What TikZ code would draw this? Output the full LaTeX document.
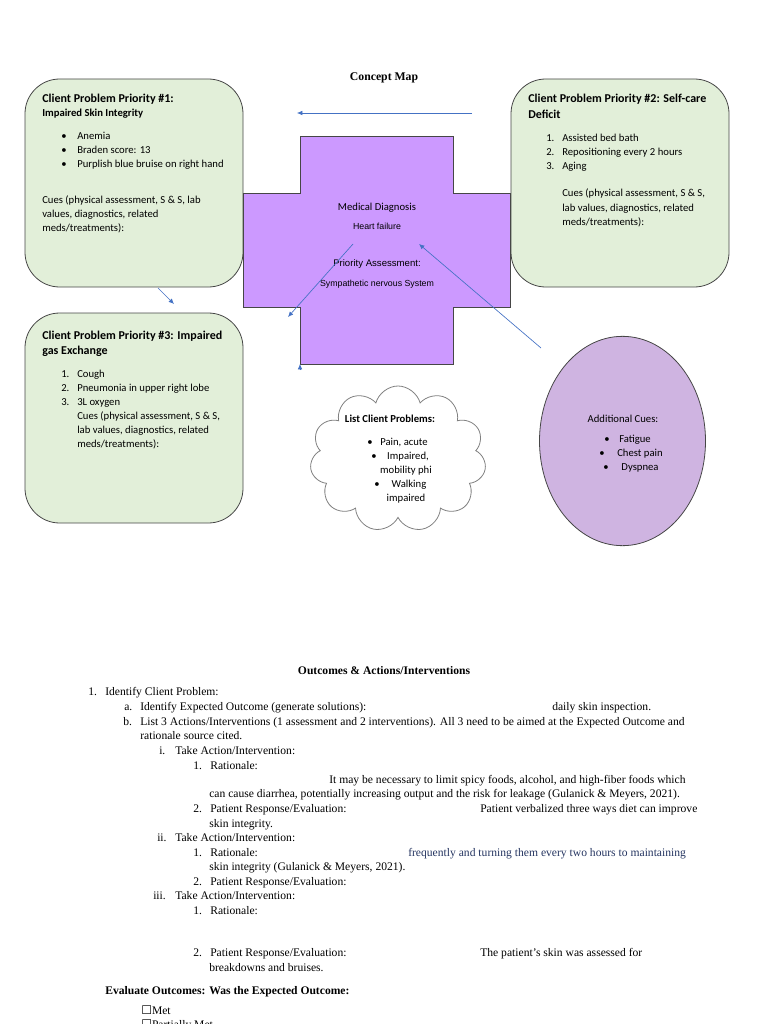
\documentclass[tikz,border=0pt]{standalone}
\usepackage{fontspec}
\setmainfont{Liberation Serif}
\newfontfamily\calfont{Carlito}
\newfontfamily\arialfont{Liberation Sans}
\newfontfamily\symfont{DejaVu Sans}
\usetikzlibrary{shapes.geometric,shapes.symbols,arrows.meta}

\definecolor{boxgreen}{RGB}{226,239,217}
\definecolor{crosspurple}{RGB}{204,153,255}
\definecolor{cuelilac}{RGB}{207,180,225}
\definecolor{arrowblue}{RGB}{68,114,196}
\definecolor{navytext}{RGB}{36,52,96}
\definecolor{edgegray}{RGB}{70,70,70}

\tikzset{
  probbox/.style={draw=edgegray,fill=boxgreen,rounded corners=26pt,line width=0.6pt,
    minimum width=163.5pt,minimum height=156pt,inner sep=0pt},
  boxtxt/.style={anchor=base west,inner sep=0pt,font=\calfont\fontsize{8}{10}\selectfont},
  boxhead/.style={boxtxt,font=\calfont\bfseries\fontsize{9}{11}\selectfont},
  midtxt/.style={anchor=base,inner sep=0pt,font=\calfont\fontsize{8}{10}\selectfont},
  crosstxt/.style={anchor=base,inner sep=0pt,font=\arialfont\fontsize{6.6}{8}\selectfont},
  link/.style={draw=arrowblue,line width=0.5pt,-{Latex[length=4pt,width=3.5pt]}},
  doctxt/.style={anchor=base west,inner sep=0pt,font=\fontsize{8.7}{10}\selectfont},
}

\begin{document}
\begin{tikzpicture}[x=0.75pt,y=-0.75pt]
  \useasboundingbox (0,0) rectangle (768,1024);

  % Title
  \node[anchor=base,font=\bfseries\fontsize{8.8}{10}\selectfont] (title) at (384,80) {Concept Map};

  % Problem boxes
  \node[probbox] (p1) at (134,183) {};
  \node[probbox] (p2) at (620,183) {};
  \node[probbox,minimum height=157.5pt] (p3) at (134,418) {};

  % Priority #1
  \node[boxhead] (p1h) at (42,103) {Client Problem Priority \#1:};
  \node[boxtxt,font=\calfont\bfseries\fontsize{8}{10}\selectfont] (p1s) at (42,117) {Impaired Skin Integrity};
  \foreach \txt [count=\k] in {Anemia, Braden score: 13, Purplish blue bruise on right hand}{
    \node[boxtxt] (p1d\k) at (61,125+14*\k) {•};
    \node[boxtxt] (p1b\k) at (77,125+14*\k) {\txt};
  }
  \node[boxtxt] (p1c1) at (42,203) {Cues (physical assessment, S \& S, lab};
  \node[boxtxt] (p1c2) at (42,217) {values, diagnostics, related};
  \node[boxtxt] (p1c3) at (42,231) {meds/treatments):};

  % Priority #2
  \node[boxhead] (p2h) at (528,103) {Client Problem Priority \#2: Self-care};
  \node[boxhead] (p2s) at (528,118) {Deficit};
  \foreach \txt [count=\k] in {Assisted bed bath, Repositioning every 2 hours, Aging}{
    \node[boxtxt] (p2n\k) at (546,127+14*\k) {\k.};
    \node[boxtxt] (p2b\k) at (562,127+14*\k) {\txt};
  }
  \node[boxtxt] (p2c1) at (562,196) {Cues (physical assessment, S \& S,};
  \node[boxtxt] (p2c2) at (562,211) {lab values, diagnostics, related};
  \node[boxtxt] (p2c3) at (562,225) {meds/treatments):};

  % Priority #3
  \node[boxhead] (p3h) at (42,339) {Client Problem Priority \#3: Impaired};
  \node[boxhead] (p3s) at (42,354) {gas Exchange};
  \foreach \txt [count=\k] in {Cough, Pneumonia in upper right lobe, 3L oxygen}{
    \node[boxtxt] (p3n\k) at (61,363+14*\k) {\k.};
    \node[boxtxt] (p3b\k) at (77,363+14*\k) {\txt};
  }
  \node[boxtxt] (p3c1) at (77,419) {Cues (physical assessment, S \& S,};
  \node[boxtxt] (p3c2) at (77,433) {lab values, diagnostics, related};
  \node[boxtxt] (p3c3) at (77,447) {meds/treatments):};

  % Medical diagnosis cross
  \draw[draw=edgegray,fill=crosspurple,line width=0.6pt] (300,136) -- (453,136) -- (453,193) -- (510,193)
    -- (510,307) -- (453,307) -- (453,364) -- (300,364) -- (300,307) -- (243,307) -- (243,193) -- (300,193) -- cycle;
  \node[midtxt] (dx) at (377,210) {Medical Diagnosis};
  \node[crosstxt] (dxv) at (377,229) {Heart failure};
  \node[crosstxt,font=\arialfont\fontsize{7.2}{8}\selectfont] (pa) at (377,266) {Priority Assessment:};
  \node[crosstxt] (pav) at (377,286) {Sympathetic nervous System};

  % Client problems cloud
  \node[cloud,draw=gray,fill=white,cloud puffs=11,aspect=1.2,line width=0.6pt,
    minimum width=132pt,minimum height=109.5pt] (probs) at (398,459) {};
  \node[midtxt,font=\calfont\bfseries\fontsize{8}{10}\selectfont] (probh) at (390,422) {List Client Problems:};
  \node[midtxt] (pr1) at (404,445) {Pain, acute};
  \node[midtxt] (pr2) at (408,459) {Impaired,};
  \node[midtxt] (pr3) at (406,473) {mobility phi};
  \node[midtxt] (pr4) at (409,487) {Walking};
  \node[midtxt] (pr5) at (406,501) {impaired};
  \node[midtxt] (prd1) at (370,445) {•};
  \node[midtxt] (prd2) at (374,459) {•};
  \node[midtxt] (prd3) at (377,487) {•};

  % Additional cues
  \node[ellipse,draw=edgegray,fill=cuelilac,line width=0.6pt,
    minimum width=124.5pt,minimum height=157pt] (cues) at (622.5,441) {};
  \node[midtxt] (cueh) at (623,422) {Additional Cues:};
  \node[midtxt] (cue1) at (635,442) {Fatigue};
  \node[midtxt] (cue2) at (640,456) {Chest pain};
  \node[midtxt] (cue3) at (640,470) {Dyspnea};
  \node[midtxt] (cued1) at (607,442) {•};
  \node[midtxt] (cued2) at (602,456) {•};
  \node[midtxt] (cued3) at (606,470) {•};

  % Arrows
  \coordinate (a1s) at (472,113);
  \coordinate (a1e) at (297,113);
  \coordinate (a2s) at (158,288);
  \coordinate (a2e) at (174,304);
  \coordinate (a3s) at (353,244);
  \coordinate (a3e) at (288,317);
  \coordinate (a4s) at (541,348);
  \coordinate (a4e) at (419,244);
  \coordinate (a5s) at (300,370);
  \coordinate (a5e) at (300,364);
  \draw[link] (a1s) -- (a1e);
  \draw[link] (a2s) -- (a2e);
  \draw[link] (a3s) -- (a3e);
  \draw[link] (a4s) -- (a4e);
  \draw[link] (a5s) -- (a5e);

  % Outcomes & interventions
  \node[anchor=base,font=\bfseries\fontsize{8.7}{10}\selectfont] (oh) at (384,674) {Outcomes \& Actions/Interventions};
  \node[doctxt] (t1n) at (88,695) {1.};
  \node[doctxt] (t1) at (105,695) {Identify Client Problem:};
  \node[doctxt] (t2n) at (124,710) {a.};
  \node[doctxt] (t2) at (140,710) {Identify Expected Outcome (generate solutions):};
  \node[doctxt] (t2r) at (552,710) {daily skin inspection.};
  \node[doctxt] (t3n) at (123,725) {b.};
  \node[doctxt] (t3) at (140,725) {List 3 Actions/Interventions (1 assessment and 2 interventions). All 3 need to be aimed at the Expected Outcome and};
  \node[doctxt] (t4) at (140,739) {rationale source cited.};
  \node[doctxt] (t5n) at (159,754) {i.};
  \node[doctxt] (t5) at (175,754) {Take Action/Intervention:};
  \node[doctxt] (t6n) at (193,769) {1.};
  \node[doctxt] (t6) at (210,769) {Rationale:};
  \node[doctxt] (t7) at (329,783) {It may be necessary to limit spicy foods, alcohol, and high-fiber foods which};
  \node[doctxt] (t8) at (209,797) {can cause diarrhea, potentially increasing output and the risk for leakage (Gulanick \& Meyers, 2021).};
  \node[doctxt] (t9n) at (193,812) {2.};
  \node[doctxt] (t9) at (210,812) {Patient Response/Evaluation:};
  \node[doctxt] (t9r) at (480,812) {Patient verbalized three ways diet can improve};
  \node[doctxt] (t10) at (209,827) {skin integrity.};
  \node[doctxt] (t11n) at (157,841) {ii.};
  \node[doctxt] (t11) at (175,841) {Take Action/Intervention:};
  \node[doctxt] (t12n) at (193,856) {1.};
  \node[doctxt] (t12) at (210,856) {Rationale:};
  \node[doctxt,text=navytext] (t12r) at (408,856) {frequently and turning them every two hours to maintaining};
  \node[doctxt] (t13) at (209,870) {skin integrity (Gulanick \& Meyers, 2021).};
  \node[doctxt] (t14n) at (193,885) {2.};
  \node[doctxt] (t14) at (210,885) {Patient Response/Evaluation:};
  \node[doctxt] (t15n) at (153,899) {iii.};
  \node[doctxt] (t15) at (175,899) {Take Action/Intervention:};
  \node[doctxt] (t16n) at (193,914) {1.};
  \node[doctxt] (t16) at (210,914) {Rationale:};
  \node[doctxt] (t17n) at (193,956) {2.};
  \node[doctxt] (t17) at (210,956) {Patient Response/Evaluation:};
  \node[doctxt] (t17r) at (480,956) {The patient’s skin was assessed for};
  \node[doctxt] (t18) at (209,971) {breakdowns and bruises.};
  \node[doctxt,font=\bfseries\fontsize{8.7}{10}\selectfont] (eval) at (105,994) {Evaluate Outcomes: Was the Expected Outcome:};
  \node[doctxt] (met) at (141,1014) {{\symfont\fontsize{9}{10}\selectfont ☐}Met};
  \node[doctxt] (pmet) at (141,1028) {{\symfont\fontsize{9}{10}\selectfont ☐}Partially Met};
\end{tikzpicture}
\end{document}
